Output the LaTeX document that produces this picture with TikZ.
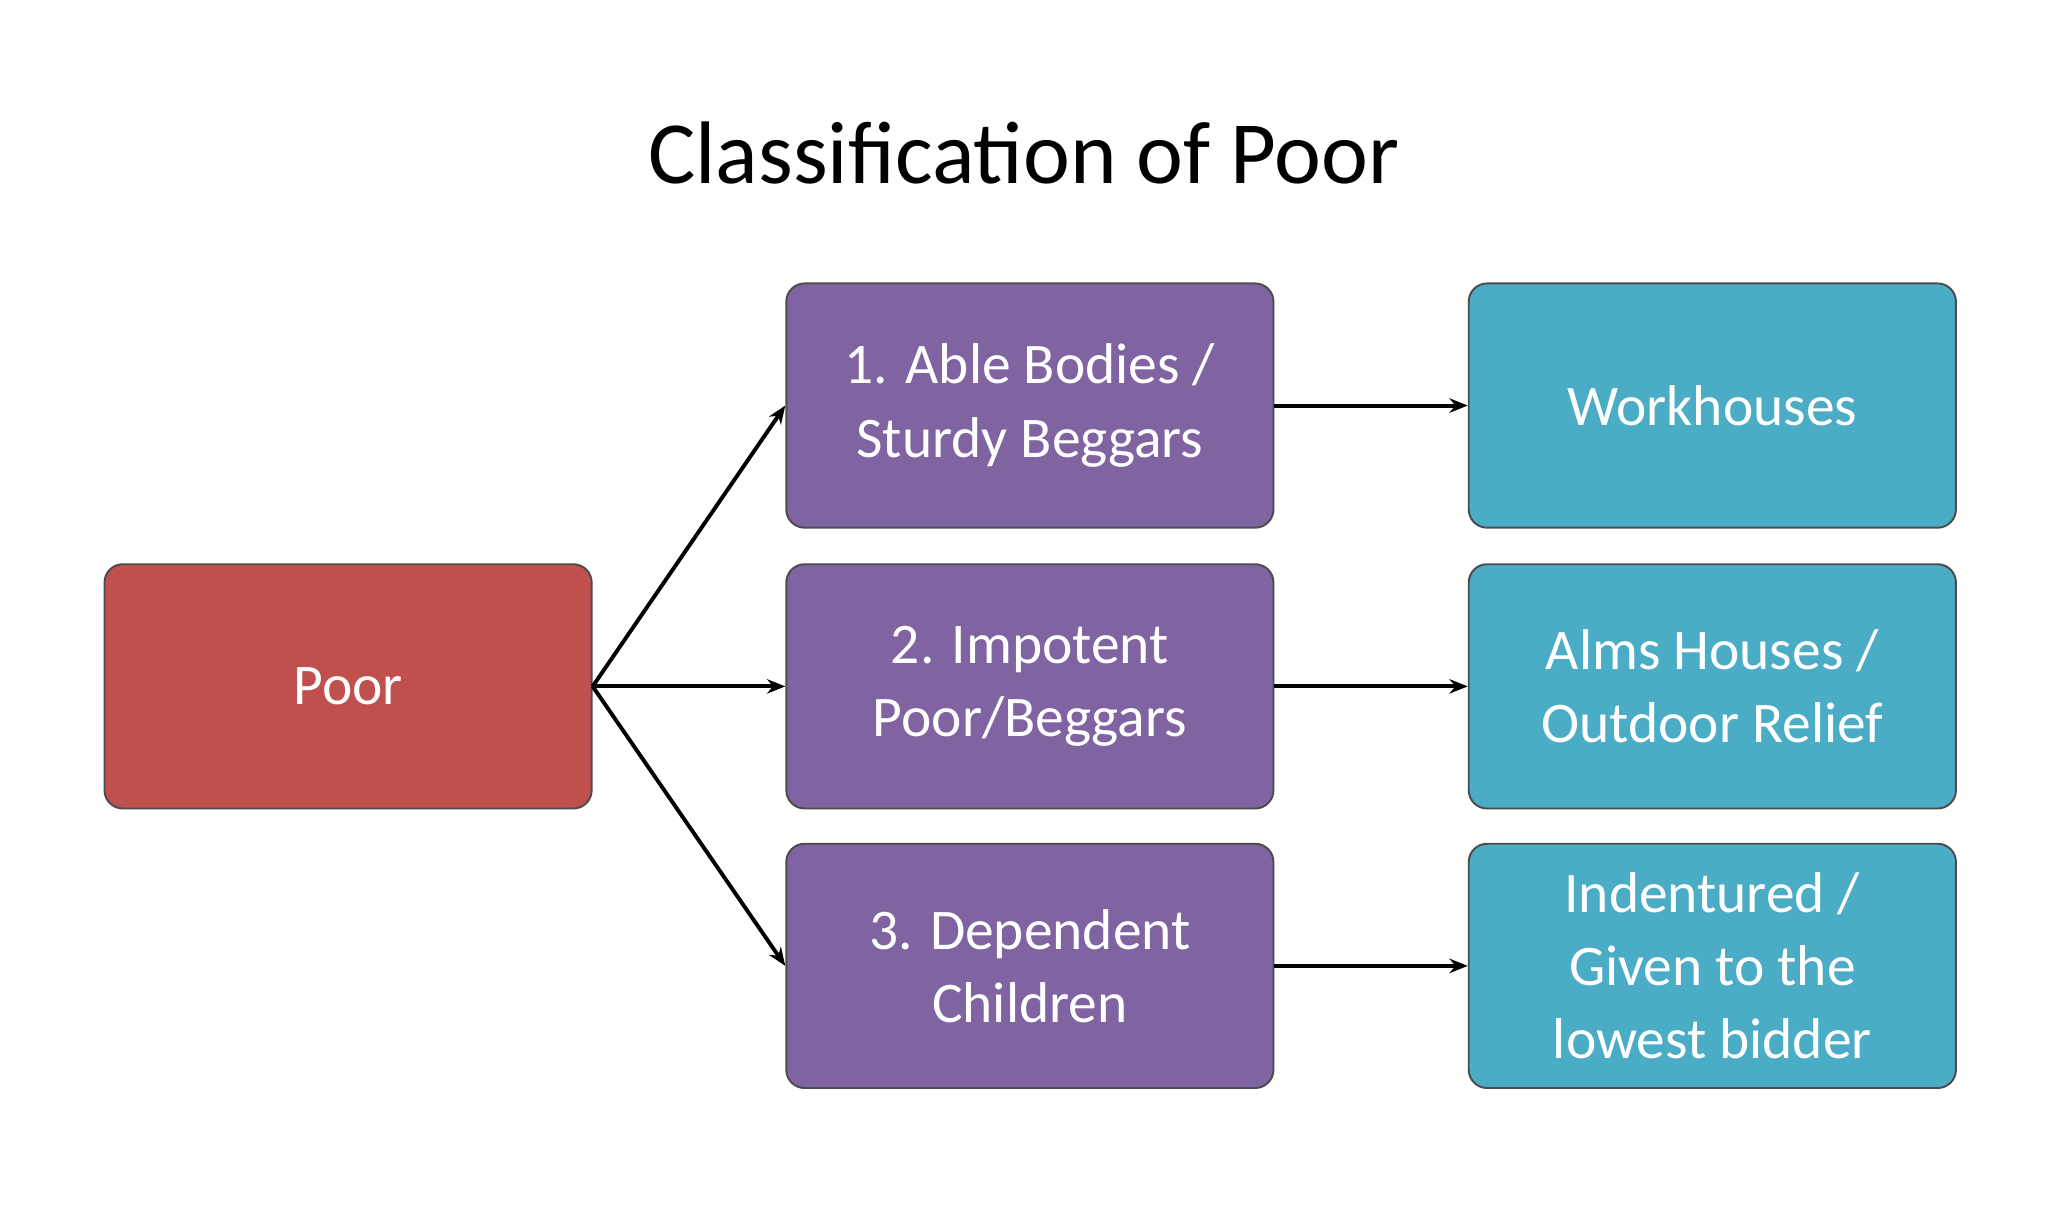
\documentclass[tikz,border=0pt]{standalone}
\usepackage{fontspec}
\setmainfont{Carlito}
\usetikzlibrary{arrows.meta}
\definecolor{cred}{HTML}{C0504D}
\definecolor{cpurple}{HTML}{8064A2}
\definecolor{cblue}{HTML}{4BACC6}
\begin{document}
\begin{tikzpicture}[x=1pt,y=-1pt,
  box/.style={draw=black!70,line width=1.5pt,rounded corners=14pt,minimum width=373pt,minimum height=187pt,text=white,align=center,font=\fontsize{44}{56}\selectfont,inner sep=0pt},
  arr/.style={-{Stealth[length=14pt,width=11pt]},line width=3pt}]
\useasboundingbox[fill=white] (0,0) rectangle (1568,934);
\node[font=\fontsize{68}{80}\selectfont] (title) at (784,117) {Classification of Poor};
\node[box,fill=cred] (poor) at (266.5,525.5) {Poor};
\node[box,fill=cpurple] (p1) at (788.5,310.5) {1. Able Bodies /\\Sturdy Beggars};
\node[box,fill=cpurple] (p2) at (788.5,525.5) {2. Impotent\\Poor/Beggars};
\node[box,fill=cpurple] (p3) at (788.5,739.5) {3. Dependent\\Children};
\node[box,fill=cblue] (b1) at (1311,310.5) {Workhouses};
\node[box,fill=cblue] (b2) at (1311,525.5) {Alms Houses /\\Outdoor Relief};
\node[box,fill=cblue] (b3) at (1311,739.5) {Indentured /\\Given to the\\lowest bidder};
\draw[arr] (poor.east) -- (p1.west);
\draw[arr] (poor.east) -- (p2.west);
\draw[arr] (poor.east) -- (p3.west);
\draw[arr] (p1.east) -- (b1.west);
\draw[arr] (p2.east) -- (b2.west);
\draw[arr] (p3.east) -- (b3.west);
\end{tikzpicture}
\end{document}
